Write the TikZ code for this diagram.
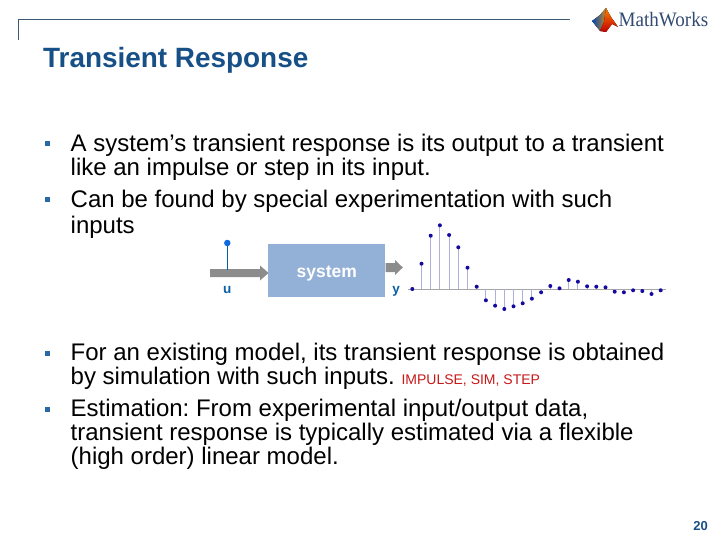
\documentclass[tikz,border=0pt]{standalone}
\usepackage{fontspec}
\setmainfont{Liberation Sans}
\newfontfamily\mwfont[FakeStretch=0.93]{Liberation Serif}
\usetikzlibrary{shadings}
\definecolor{titleblue}{RGB}{22,80,135}
\definecolor{framec}{RGB}{60,90,115}
\definecolor{boxblue}{RGB}{147,176,214}
\definecolor{arrowgray}{RGB}{140,140,140}
\definecolor{labelblue}{RGB}{10,95,165}
\definecolor{dotblue}{RGB}{15,105,225}
\definecolor{stemc}{RGB}{175,175,220}
\definecolor{darkdot}{RGB}{20,10,160}
\definecolor{bulletc}{RGB}{40,105,165}
\definecolor{cmdred}{RGB}{200,25,25}
\definecolor{mwtext}{RGB}{50,75,115}
\tikzset{
  x=1pt,y=-1pt,
  bodytext/.style={anchor=base west,inner sep=0pt,outer sep=0pt,font=\frenchspacing\fontsize{24}{24}\selectfont,text=black},
  bulletmark/.style={fill=bulletc,draw=none,minimum size=5pt,inner sep=0pt},
  blockarrow/.style={fill=arrowgray,draw=none},
  iolabel/.style={inner sep=0pt,font=\fontsize{13.5}{14}\bfseries\selectfont,text=labelblue,anchor=base},
}
\begin{document}
\begin{tikzpicture}
\useasboundingbox (0,0) rectangle (720,540);
\fill[white] (0,0) rectangle (720,540);
% frame
\coordinate (fa) at (18,40);
\coordinate (fb) at (18,19.5);
\coordinate (fc) at (570,19.5);
\draw[framec,line width=0.8pt] (fa) -- (fb) -- (fc);
% logo
\fill[left color=blue!60!cyan!70!black,right color=orange!80!yellow] (592,21) -- (600,15) -- (606,8) -- (610,17) -- (604,25) -- (600,31) -- cycle;
\fill[top color=orange,bottom color=red!75!black] (606,8) -- (611,17) -- (618,27) -- (612,24) -- (606,32) -- (600,31) -- (604,22) -- cycle;
\node[anchor=base west,inner sep=0pt,font=\mwfont\fontsize{20.5}{21}\selectfont,text=mwtext] (mw) at (618.5,27) {MathWorks};
% title
\node[anchor=base west,inner sep=0pt,font=\fontsize{27.9}{28}\bfseries\selectfont,text=titleblue] (title) at (43,67.7) {Transient Response};
% bullets
\node[bulletmark] (b1) at (47.3,144) {};
\node[bulletmark] (b2) at (47.3,200) {};
\node[bulletmark] (b3) at (47.3,353) {};
\node[bulletmark] (b4) at (47.3,409) {};
\node[bodytext] (t1a) at (70.7,151.5) {A system’s transient response is its output to a transient};
\node[bodytext] (t1b) at (70.7,175.5) {like an impulse or step in its input.};
\node[bodytext] (t2a) at (70.7,207.5) {Can be found by special experimentation with such};
\node[bodytext] (t2b) at (70.7,233.5) {inputs};
\node[bodytext] (t3a) at (70.7,360.5) {For an existing model, its transient response is obtained};
\node[bodytext] (t3b) at (70.7,384.5) {by simulation with such inputs. {\fontsize{14}{14}\selectfont\textcolor{cmdred}{IMPULSE, SIM, STEP}}};
\node[bodytext] (t4a) at (70.7,416.5) {Estimation: From experimental input/output data,};
\node[bodytext] (t4b) at (70.7,440.5) {transient response is typically estimated via a flexible};
\node[bodytext] (t4c) at (70.7,464.5) {(high order) linear model.};
% system
\node[fill=boxblue,minimum width=117pt,minimum height=53.5pt,inner sep=0pt,outer sep=0pt] (sys) at (326.8,270.5) {};
\node[inner sep=0pt,text=white,font=\fontsize{17.5}{18}\bfseries\selectfont,anchor=base] (syslabel) at (326.8,277) {system};
% input arrow
\fill[blockarrow] (210,269) -- (260,269) -- (260,265.5) -- (268.5,273) -- (260,280.5) -- (260,277) -- (210,277) -- cycle;
\node[circle,fill=dotblue,minimum size=6.5pt,inner sep=0pt] (udot) at (227.3,243) {};
\coordinate (ufoot) at (227.3,270);
\draw[labelblue,line width=0.8pt] (udot) -- (ufoot);
\node[iolabel] (ulab) at (227.3,293) {u};
% output arrow
\fill[blockarrow] (385.5,263) -- (395,263) -- (395,260) -- (402.8,267.5) -- (395,275) -- (395,272) -- (385.5,272) -- cycle;
\node[iolabel] (ylab) at (396,293) {y};
% axis
\coordinate (axl) at (408,289);
\coordinate (axr) at (666,289);
\draw[gray!70,line width=0.9pt] (axl) -- (axr);
% stems
\foreach \i/\yy in {0/289,1/263.7,2/235.7,3/225.3,4/235,5/247.3,6/267.7,7/286.7,8/300.3,9/305.7,10/309,11/306.3,12/303.3,13/298.7,14/292.3,15/286,16/288.3,17/280,18/281.7,19/286.3,20/286.7,21/287.3,22/291.7,23/292.3,24/290.3,25/291,26/294,27/290.3}{
  \pgfmathsetmacro{\xx}{412.3+9.2*\i}
  \coordinate (s\i) at (\xx,289);
  \coordinate (e\i) at (\xx,\yy);
  \draw[stemc,line width=1.1pt] (s\i) -- (e\i);
  \node[circle,fill=darkdot,minimum size=4pt,inner sep=0pt] (d\i) at (e\i) {};
}
% page number
\node[anchor=base east,inner sep=0pt,font=\fontsize{13}{13}\bfseries\selectfont,text=titleblue] (pg) at (708,530) {20};
\end{tikzpicture}
\end{document}
